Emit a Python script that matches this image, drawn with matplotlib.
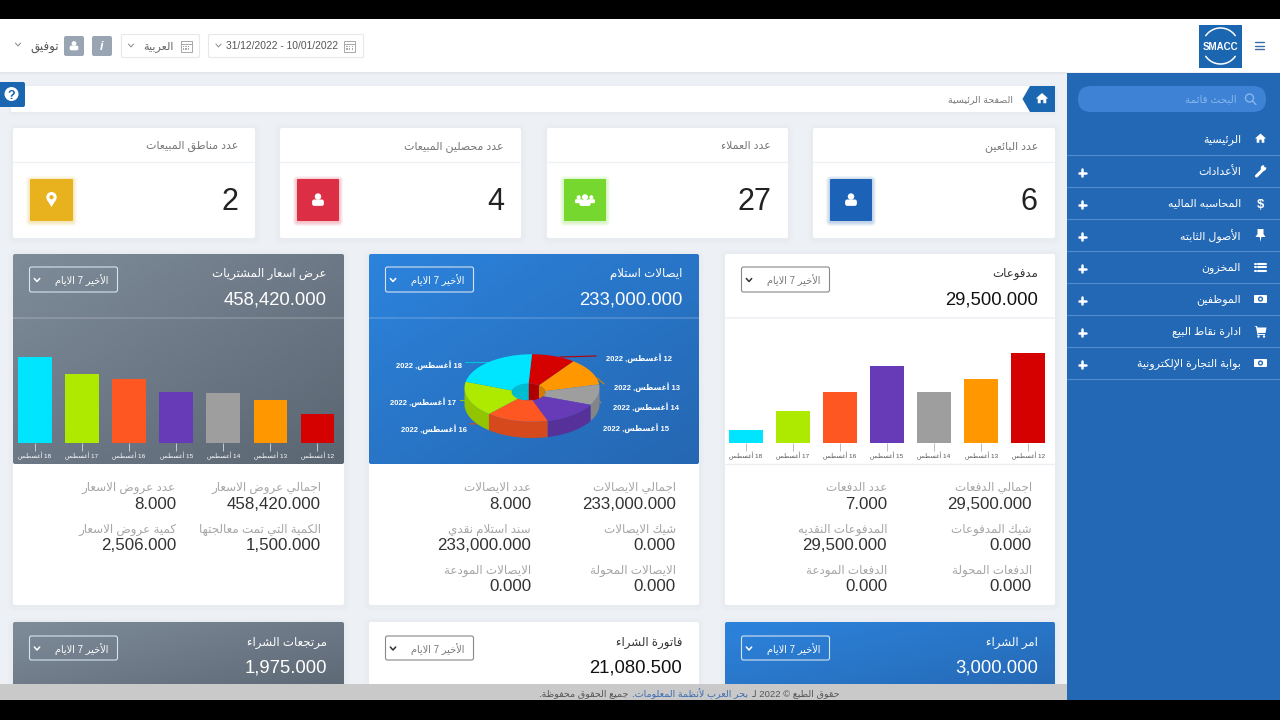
import re
import numpy as np
import matplotlib
matplotlib.use('Agg')
import matplotlib.pyplot as plt
from matplotlib.patches import FancyBboxPatch, Rectangle, Circle, Polygon
from matplotlib.colors import LinearSegmentedColormap

FONT = ['Liberation Sans', 'DejaVu Sans']
plt.rcParams['font.family'] = FONT

# ---------- data ----------
DAYS = ['18 أغسطس', '17 أغسطس', '16 أغسطس', '15 أغسطس', '14 أغسطس', '13 أغسطس', '12 أغسطس']
BAR_COLORS = ['#00E5FF', '#AEEA00', '#FF5722', '#673AB7', '#9E9E9E', '#FF9800', '#D50000']
PAYMENTS = [1.0, 2.5, 4.0, 6.0, 4.0, 5.0, 7.0]
QUOTES = [6.7, 5.4, 5.0, 4.0, 3.9, 3.35, 2.25]
PIE_LABELS = ['12 أغسطس, 2022', '13 أغسطس, 2022', '14 أغسطس, 2022', '15 أغسطس, 2022',
              '16 أغسطس, 2022', '17 أغسطس, 2022', '18 أغسطس, 2022']
PIE_COLORS = ['#D50000', '#FF9800', '#9E9E9E', '#673AB7', '#FF5722', '#AEEA00', '#00E5FF']
PIE_VALUES = [10.5, 12.8, 10.0, 13.0, 14.7, 17.0, 22.0]

KPI_TITLES = ['عدد البائعين', 'عدد العملاء', 'عدد محصلين المبيعات', 'عدد مناطق المبيعات']
KPI_VALUES = ['6', '27', '4', '2']
MENU_ITEMS = ['الرئيسية', 'الأعدادات', 'المحاسبه الماليه', 'الأصول الثابته', 'المخزون',
              'الموظفين', 'ادارة نقاط البيع', 'بوابة التجارة الإلكترونية']
SELECT_LABEL = 'الأخير 7 الايام'
CARD_TITLES = ['مدفوعات', 'ايصالات استلام', 'عرض اسعار المشتريات']
CARD_TOTALS = ['29,500.000', '233,000.000', '458,420.000']
PAY_STATS = [('اجمالي الدفعات', '29,500.000'), ('عدد الدفعات', '7.000'),
             ('شيك المدفوعات', '0.000'), ('المدفوعات النقديه', '29,500.000'),
             ('الدفعات المحولة', '0.000'), ('الدفعات المودعة', '0.000')]
REC_STATS = [('اجمالي الايصالات', '233,000.000'), ('عدد الايصالات', '8.000'),
             ('شيك الايصالات', '0.000'), ('سند استلام نقدي', '233,000.000'),
             ('الايصالات المحولة', '0.000'), ('الايصالات المودعة', '0.000')]
QUO_STATS = [('اجمالي عروض الاسعار', '458,420.000'), ('عدد عروض الاسعار', '8.000'),
             ('الكمية التي تمت معالجتها', '1,500.000'), ('كمية عروض الاسعار', '2,506.000')]
LOWER_TITLES = ['امر الشراء', 'فاتورة الشراء', 'مرتجعات الشراء']
LOWER_TOTALS = ['3,000.000', '21,080.500', '1,975.000']

# ---------- Arabic shaping (matplotlib draws glyphs left to right, without joining) ----------
DUAL = {'ب': 0xFE8F, 'ت': 0xFE95, 'ث': 0xFE99, 'ج': 0xFE9D, 'ح': 0xFEA1, 'خ': 0xFEA5, 'س': 0xFEB1,
        'ش': 0xFEB5, 'ص': 0xFEB9, 'ض': 0xFEBD, 'ط': 0xFEC1, 'ظ': 0xFEC5, 'ع': 0xFEC9, 'غ': 0xFECD,
        'ف': 0xFED1, 'ق': 0xFED5, 'ك': 0xFED9, 'ل': 0xFEDD, 'م': 0xFEE1, 'ن': 0xFEE5, 'ه': 0xFEE9,
        'ي': 0xFEF1, 'ئ': 0xFE89}
RIGHT = {'ا': 0xFE8D, 'أ': 0xFE83, 'إ': 0xFE87, 'آ': 0xFE81, 'ؤ': 0xFE85, 'د': 0xFEA9, 'ذ': 0xFEAB,
         'ر': 0xFEAD, 'ز': 0xFEAF, 'و': 0xFEED, 'ة': 0xFE93, 'ى': 0xFEEF}
LAM_ALEF = {'ا': 0xFEFB, 'أ': 0xFEF7, 'إ': 0xFEF9, 'آ': 0xFEF5}
TATWEEL = '\u0640'


def shape_word(w):
    out, i, n = [], 0, len(w)
    prev_joins = False

    def is_ar(c):
        return c in DUAL or c in RIGHT or c == TATWEEL

    while i < n:
        c = w[i]
        if c == 'ل' and i + 1 < n and w[i + 1] in LAM_ALEF:
            out.append(chr(LAM_ALEF[w[i + 1]] + (1 if prev_joins else 0)))
            prev_joins = False
            i += 2
            continue
        nxt = w[i + 1] if i + 1 < n else ''
        if c == TATWEEL:
            out.append(c)
            prev_joins = True
        elif c in DUAL:
            nj = is_ar(nxt)
            form = (3 if nj else 1) if prev_joins else (2 if nj else 0)
            out.append(chr(DUAL[c] + form))
            prev_joins = nj
        elif c in RIGHT:
            out.append(chr(RIGHT[c] + (1 if prev_joins else 0)))
            prev_joins = False
        else:
            out.append(c)
            prev_joins = False
        i += 1
    return ''.join(reversed(out))


def ar(s):
    if not re.search('[\u0600-\u06FF]', s):
        return s
    toks = s.split(' ')
    return ' '.join(shape_word(t) if re.search('[\u0600-\u06FF]', t) else t for t in reversed(toks))


# ---------- canvas ----------
fig = plt.figure(figsize=(12.8, 7.2), dpi=100, facecolor='#EDF0F5')
bg = fig.add_axes([0, 0, 1, 1])
bg.set_axis_off()


def lock():
    bg.set_xlim(0, 1280)
    bg.set_ylim(720, 0)


lock()


def rect(x0, y0, x1, y1, color, z=1, ec='none', lw=0, r=0, alpha=None):
    if r:
        p = FancyBboxPatch((x0 + r, y0 + r), x1 - x0 - 2 * r, y1 - y0 - 2 * r,
                           boxstyle=f'round,pad={r},rounding_size={r}', fc=color, ec=ec, lw=lw,
                           zorder=z, alpha=alpha)
    else:
        p = Rectangle((x0, y0), x1 - x0, y1 - y0, fc=color, ec=ec, lw=lw, zorder=z, alpha=alpha)
    bg.add_patch(p)
    return p


def T(x, y, s, size, color, ha='right', weight='normal', z=10, style='normal'):
    return bg.text(x, y, ar(s), fontsize=size, color=color, ha=ha, va='center_baseline',
                   fontweight=weight, zorder=z, family=FONT, fontstyle=style)


def line(xs, ys, color, lw=1, z=5, alpha=None):
    bg.plot(xs, ys, color=color, lw=lw, zorder=z, alpha=alpha, solid_capstyle='round', scalex=False, scaley=False)


def gradient(x0, y0, x1, y1, c0, c1, clip, z=2):
    cmap = LinearSegmentedColormap.from_list('g', [c0, c1])
    yy, xx = np.mgrid[0:1:40j, 0:1:60j]
    im = bg.imshow((xx + yy) / 2, extent=(x0, x1, y1, y0), cmap=cmap, aspect='auto', zorder=z, vmin=0, vmax=1)
    im.set_clip_path(clip)
    lock()


def shadow(x0, y0, x1, y1, color='#9AA5B5', r=3, z=1.5, steps=5, spread=6, a=0.012):
    for k in range(steps, 0, -1):
        d = spread * k / steps
        rect(x0 - d, y0 - d + 1, x1 + d, y1 + d + 1, color, z=z, r=r + d, alpha=a)


def chevron(cx, cy, color, s=3, lw=1):
    line([cx - s, cx, cx + s], [cy - s * 0.55, cy + s * 0.55, cy - s * 0.55], color, lw, z=11)


def calendar(cx, cy, color='#A8A8A8', s=5.5):
    rect(cx - s, cy - s, cx + s, cy + s, 'none', z=11, ec=color, lw=0.7)
    line([cx - s, cx + s], [cy - s + 3, cy - s + 3], color, 0.7, z=11)
    for dx in (-2.6, 0, 2.6):
        for dy in (0.2, 3):
            rect(cx + dx - 0.6, cy + dy - 0.6, cx + dx + 0.6, cy + dy + 0.6, color, z=11)


def user(cx, cy, color, s=1.0, z=12):
    bg.add_patch(Circle((cx, cy - 3.5 * s), 3.3 * s, fc=color, ec='none', zorder=z))
    rect(cx - 6 * s, cy - 0.5 * s, cx + 6 * s, cy + 6 * s, color, z=z, r=2.2 * s)


def group(cx, cy, color):
    user(cx - 6.3, cy - 0.5, color, 0.62)
    user(cx + 6.3, cy - 0.5, color, 0.62)
    user(cx, cy + 0.5, color, 0.92)


def pin(cx, cy, color, bgc):
    bg.add_patch(Circle((cx, cy - 2.3), 5.2, fc=color, ec='none', zorder=12))
    bg.add_patch(Polygon([(cx - 4.6, cy), (cx + 4.6, cy), (cx, cy + 7.5)], fc=color, ec='none', zorder=12))
    bg.add_patch(Circle((cx, cy - 2.3), 2.1, fc=bgc, ec='none', zorder=13))


def home(cx, cy, color, s=1.0, z=12):
    bg.add_patch(Polygon([(cx - 6.5 * s, cy), (cx, cy - 5.8 * s), (cx + 6.5 * s, cy), (cx + 4.5 * s, cy),
                          (cx + 4.5 * s, cy + 5 * s), (cx + 1.4 * s, cy + 5 * s), (cx + 1.4 * s, cy + 1.5 * s),
                          (cx - 1.4 * s, cy + 1.5 * s), (cx - 1.4 * s, cy + 5 * s), (cx - 4.5 * s, cy + 5 * s),
                          (cx - 4.5 * s, cy)], fc=color, ec='none', zorder=z))


# page frame
rect(0, 19, 1280, 72, 'white', z=1)
rect(0, 72, 1067, 73.5, '#E4E7EC', z=1)
rect(0, 0, 1280, 19, 'black', z=30)
rect(0, 700, 1280, 720, 'black', z=30)

# header controls
SMACC_BLUE = '#1B66B0'
rect(1199, 25, 1242, 68, SMACC_BLUE, z=3)
T(1220.5, 46, 'SMACC', 7.0, 'white', ha='center', weight='bold')
th = np.radians(np.linspace(35, 145, 40))
line(1220.5 + 18 * np.cos(th), 46 - 18 * np.sin(th), 'white', 1.1)
line(1220.5 + 18 * np.cos(th), 46 + 18 * np.sin(th), 'white', 1.1)
for yy in (42, 45.5, 49):
    line([1255, 1264], [yy, yy], '#3A6EA8', 1.0)

rect(208.5, 34.5, 363.5, 57.5, 'white', z=3, ec='#E6E8EC', lw=0.8, r=1)
T(338, 45, '31/12/2022 - 10/01/2022', 7.4, '#555555')
calendar(349.5, 46)
chevron(218.5, 45.5, '#888888', 2.6, 0.7)
rect(121.5, 34.5, 199.5, 57.5, 'white', z=3, ec='#E6E8EC', lw=0.8, r=1)
T(174, 45, 'العربية', 8, '#666666')
calendar(186, 46)
chevron(131, 45.5, '#888888', 2.6, 0.7)
rect(92, 36, 112, 56, '#9AA5B4', z=3, r=2)
T(102, 46, 'i', 9, 'white', ha='center', weight='bold', style='italic')
rect(64, 36, 84, 56, '#9AA5B4', z=3, r=2)
user(74, 46, 'white', 0.72)
T(59, 46, 'توفيق', 8.6, '#555555')
chevron(18, 44.5, '#888888', 2.6, 0.7)

# breadcrumb
shadow(11, 86, 1055, 112, spread=3)
rect(11, 86, 1055, 112, 'white', z=2, r=1)
bg.add_patch(Polygon([(1055, 86), (1030, 86), (1022.5, 99), (1030, 112), (1055, 112)], fc=SMACC_BLUE, ec='none', zorder=3))
home(1042, 98.5, 'white', 0.95)
T(1013, 99, 'الصفحة الرئيسية', 6.8, '#777777')
rect(-4, 82, 25, 107, SMACC_BLUE, z=6, r=2)
bg.add_patch(Circle((11.5, 94), 7, fc='white', ec='none', zorder=7))
T(11.5, 94.5, '?', 9, SMACC_BLUE, ha='center', weight='bold')

# KPI cards
KPI_X = [(813, 1055), (547, 788), (280, 521), (13, 255)]
ICON_X = [(830, 872), (564, 606), (297, 339), (30, 73)]
ICON_COL = ['#1C63B7', '#76D82E', '#DC2F45', '#E7B21D']
for i in range(4):
    x0, x1 = KPI_X[i]
    shadow(x0, 128, x1, 238)
    rect(x0, 128, x1, 238, 'white', z=2, r=2)
    line([x0, x1], [161.5, 161.5], '#EEF0F3', 1, z=3)
    T(x1 - 17, 145, KPI_TITLES[i], 7.9, '#777777')
    T(x1 - 17, 199, KPI_VALUES[i], 22, '#222222')
    ix0, ix1 = ICON_X[i]
    shadow(ix0, 179, ix1, 221, color=ICON_COL[i], r=1, z=3, steps=6, spread=4, a=0.05)
    rect(ix0, 179, ix1, 221, ICON_COL[i], z=4, r=1)
    cx, cy = (ix0 + ix1) / 2, 200
    if i == 0 or i == 2:
        user(cx, cy, 'white', 0.98)
    elif i == 1:
        group(cx, cy, 'white')
    else:
        pin(cx, cy - 0.5, 'white', ICON_COL[i])


# large cards
def select_box(x0, y0, y1, edge, color):
    rect(x0, y0, x0 + 88, y1, 'none', z=6, ec=edge, lw=0.8, r=2)
    T(x0 + 79, (y0 + y1) / 2, SELECT_LABEL, 7.0, color)
    chevron(x0 + 7.5, (y0 + y1) / 2 + 0.5, color if color != '#777777' else '#333333', 2.7, 1.1)


BLUE_G = ('#2C83DC', '#2567B2')
GREY_G = ('#7E8B98', '#5B6673')
CARDS = [(725, 1055, None), (369, 699, BLUE_G), (13, 344, GREY_G)]
ALL_STATS = [PAY_STATS, REC_STATS, QUO_STATS]
for i, (x0, x1, g) in enumerate(CARDS):
    shadow(x0, 254, x1, 605)
    rect(x0, 254, x1, 605, 'white', z=2, r=2)
    if g:
        hdr = rect(x0, 254, x1, 464, 'none', z=2.1, r=2)
        gradient(x0, 254, x1, 464, g[0], g[1], hdr, z=2.2)
    sep = '#EDEFF3' if not g else '#FFFFFF'
    line([x0, x1], [317.5, 317.5], sep, 1.1, z=3, alpha=1 if not g else 0.2)
    fg = '#333333' if not g else 'white'
    num = '#111111' if not g else 'white'
    T(x1 - 17, 272, CARD_TITLES[i], 8.5, fg)
    T(x1 - 17, 298, CARD_TOTALS[i], 13.3, num)
    select_box(x0 + 16.5, 267, 292, '#888888' if not g else '#D5E2F0', '#777777' if not g else 'white')
    if not g:
        line([x0, x1], [464, 464], '#EDEFF3', 1, z=3)
    rx, lx = x1 - 23, x1 - 168
    for k, (lab, val) in enumerate(ALL_STATS[i]):
        row = k // 2
        xx = rx if k % 2 == 0 else lx
        T(xx, 486.5 + row * 41.5, lab, 8.6, '#A6A6A6')
        T(xx, 503 + row * 41, val, 12.2, '#333333')

# lower cards
LOWER = [(725, 1055, BLUE_G), (369, 699, None), (13, 344, GREY_G)]
for i, (x0, x1, g) in enumerate(LOWER):
    shadow(x0, 622, x1, 700)
    p = rect(x0, 622, x1, 700, 'white', z=2, r=2)
    if g:
        gradient(x0, 622, x1, 700, g[0], g[1], p, z=2.2)
    fg = '#333333' if not g else 'white'
    T(x1 - 17, 641, LOWER_TITLES[i], 8.5, fg)
    T(x1 - 17, 666, LOWER_TOTALS[i], 13.3, '#111111' if not g else 'white')
    select_box(x0 + 16.5, 636, 660, '#888888' if not g else '#D5E2F0', '#777777' if not g else 'white')

# footer
rect(0, 684, 1067, 700, '#C9C9C9', z=20)
FOOT_PARTS = [('حقوق الطبع © 2022 لـ', '#555555'), ('بحر العرب لأنظمة المعلومات.', '#3B6CB0'), ('جميع الحقوق محفوظة.', '#555555')]
fx = 840
fig.canvas.draw()
rnd = fig.canvas.get_renderer()
for s, c in FOOT_PARTS:
    tx = T(fx, 693, s, 6.8, c, z=21)
    fx -= tx.get_window_extent(rnd).width + 3.5

# sidebar
SIDE = '#2368B4'
rect(1067, 73, 1280, 700, SIDE, z=15)
rect(1078, 86, 1266, 112, '#3D82D4', z=16, r=13)
T(1237, 98.5, 'البحث قائمة', 7.5, '#86B6EC', z=17)
bg.add_patch(Circle((1249.5, 98), 4, fc='none', ec='#86B6EC', lw=1, zorder=17))
line([1252.5, 1256], [101, 104.5], '#86B6EC', 1, z=17)
for k, item in enumerate(MENU_ITEMS):
    cy = 139 + 32 * k
    T(1241, cy - 0.5, item, 7.9, 'white', z=17)
    line([1067, 1280], [155 + 32 * k] * 2, '#4D8BD0', 0.9, z=16)
    if k > 0:
        py = cy + 1.7
        line([1078.5, 1085.5], [py, py], 'white', 1.8, z=17)
        line([1082, 1082], [py - 3.5, py + 3.5], 'white', 1.8, z=17)
    ix = 1260.5
    if k == 0:
        home(ix, cy - 0.5, 'white', 0.85, z=17)
    elif k == 1:
        line([ix - 4, ix + 3], [cy + 5, cy - 2], 'white', 2.2, z=17)
        bg.add_patch(Circle((ix + 3, cy - 3), 2.8, fc='white', ec='none', zorder=17))
        bg.add_patch(Circle((ix + 5, cy - 5), 1.4, fc=SIDE, ec='none', zorder=18))
    elif k == 2:
        T(ix, cy, '$', 9.5, 'white', ha='center', weight='bold', z=17)
    elif k == 3:
        bg.add_patch(Polygon([(ix - 3, cy - 6), (ix + 3, cy - 6), (ix + 3, cy - 1), (ix + 5, cy + 2), (ix + 0.8, cy + 2),
                              (ix, cy + 7), (ix - 0.8, cy + 2), (ix - 5, cy + 2), (ix - 3, cy - 1)], fc='white', ec='none', zorder=17))
    elif k == 4:
        for dy in (-3.5, 0, 3.5):
            line([ix - 5.5, ix - 4.8], [cy + dy] * 2, 'white', 1.5, z=17)
            line([ix - 2.5, ix + 5.5], [cy + dy] * 2, 'white', 1.5, z=17)
    elif k in (5, 7):
        rect(ix - 6.5, cy - 4, ix + 6.5, cy + 4, 'white', z=17, r=0.8)
        bg.add_patch(Circle((ix, cy), 2.6, fc=SIDE, ec='none', zorder=18))
        bg.add_patch(Circle((ix, cy), 1.2, fc='white', ec='none', zorder=19))
    elif k == 6:
        bg.add_patch(Polygon([(ix - 6, cy - 5), (ix - 3.5, cy - 5), (ix - 3, cy - 3.5), (ix + 6, cy - 3.5), (ix + 5, cy + 2),
                              (ix - 2.5, cy + 2), (ix - 2, cy + 3), (ix + 4.5, cy + 3), (ix + 4.5, cy + 4), (ix - 3, cy + 4),
                              (ix - 4.5, cy - 4)], fc='white', ec='none', zorder=17))
        bg.add_patch(Circle((ix - 2, cy + 5.5), 1.2, fc='white', ec='none', zorder=17))
        bg.add_patch(Circle((ix + 3.5, cy + 5.5), 1.2, fc='white', ec='none', zorder=17))


# ---------- charts ----------
def px_axes(x0, y0, x1, y1):
    return fig.add_axes([x0 / 1280, 1 - y1 / 720, (x1 - x0) / 1280, (y1 - y0) / 720], zorder=3)


def bar_chart(x0, x1, top, base, values, scale, tick_col, lab_col):
    ax = px_axes(x0, top, x1, base)
    ax.patch.set_alpha(0)
    xs = np.arange(len(values))
    ax.bar(xs, values, width=0.715, color=BAR_COLORS)
    ax.set_xlim(-0.3575, 6.3575)
    ax.set_ylim(0, (base - top) / scale)
    ax.set_yticks([])
    ax.set_xticks(xs)
    ax.set_xticklabels([ar(d) for d in DAYS], fontsize=4.6, color=lab_col, family=FONT)
    ax.tick_params(axis='x', length=5.8, width=0.7, color=tick_col, pad=0.3)
    for s in ax.spines.values():
        s.set_visible(False)
    return ax


bar_chart(729, 1045, 330, 443, PAYMENTS, 12.85, '#BBBBBB', '#555555')
bar_chart(18, 334.3, 330, 443, QUOTES, 12.85, '#C8CDD2', 'white')

# 3D pie
PX = 67.5
pie = px_axes(450, 340, 615, 440)
pie.patch.set_alpha(0)
pie.set_xlim(-82 / PX, 83 / PX)
pie.set_ylim(-52 / PX, 48 / PX)
pie.set_axis_off()
RY, DEPTH, HOLE_X, HOLE_Y = 0.5, 0.24, 0.25, 0.125
HOLE_CX, HOLE_CY = -0.05, -0.06


def shade(c, f):
    rgb = np.array(matplotlib.colors.to_rgb(c))
    return tuple(rgb * f)


def P(a, r=1.0, ry=RY, dy=0.0, cx=0.0, cy=0.0):
    return np.column_stack([cx + r * np.sin(a), cy + ry * r * np.cos(a) + dy])


edges = np.radians(np.cumsum([0] + PIE_VALUES) / sum(PIE_VALUES) * 360)
# back of the hole, visible through the top
for i in range(len(PIE_VALUES)):
    aa = np.linspace(edges[i], edges[i + 1], 60)
    inner = P(aa, HOLE_X, HOLE_Y / HOLE_X, 0, HOLE_CX, HOLE_CY)
    low = P(aa, HOLE_X, HOLE_Y / HOLE_X, -DEPTH, HOLE_CX, HOLE_CY)
    pie.add_patch(Polygon(np.vstack([inner, low[::-1]]), fc=shade(PIE_COLORS[i], 0.82), ec='none', zorder=1))
# outer walls, front half
order = sorted(range(len(PIE_VALUES)), key=lambda j: -abs((edges[j] + edges[j + 1]) / 2 - np.pi))
for i in order:
    a0, a1 = max(edges[i], np.pi / 2), min(edges[i + 1], 3 * np.pi / 2)
    if a1 <= a0:
        continue
    aa = np.linspace(a0, a1, 60)
    pie.add_patch(Polygon(np.vstack([P(aa), P(aa, dy=-DEPTH)[::-1]]), fc=shade(PIE_COLORS[i], 0.84), ec='none', zorder=2))
# top faces
for i in range(len(PIE_VALUES)):
    aa = np.linspace(edges[i], edges[i + 1], 80)
    outer = P(aa)
    inner = P(aa, HOLE_X, HOLE_Y / HOLE_X, 0, HOLE_CX, HOLE_CY)
    pie.add_patch(Polygon(np.vstack([outer, inner[::-1]]), fc=PIE_COLORS[i], ec='none', zorder=3))

LABEL_POS = [(672, 357), (680, 386), (679, 406), (669, 427), (467, 428), (456, 401), (462, 364)]
LEADERS = [((596, 356), (560, 357)), ((604, 384), (597, 378)), ((601, 403), (598, 399)),
           ((588, 423), (572, 416)), ((470, 424), (515, 422)), ((460, 400), (466, 400)), ((465, 362), (488, 362))]
for i, s in enumerate(PIE_LABELS):
    T(LABEL_POS[i][0], LABEL_POS[i][1], s, 5.5, 'white', weight='bold', z=12)
    (a, b), (c, d) = LEADERS[i]
    bg.plot([a, c], [b, d], color=shade(PIE_COLORS[i], 0.85), lw=0.8, zorder=2.6, scalex=False, scaley=False)

lock()
fig.savefig('out.png', dpi=100, facecolor=fig.get_facecolor())
